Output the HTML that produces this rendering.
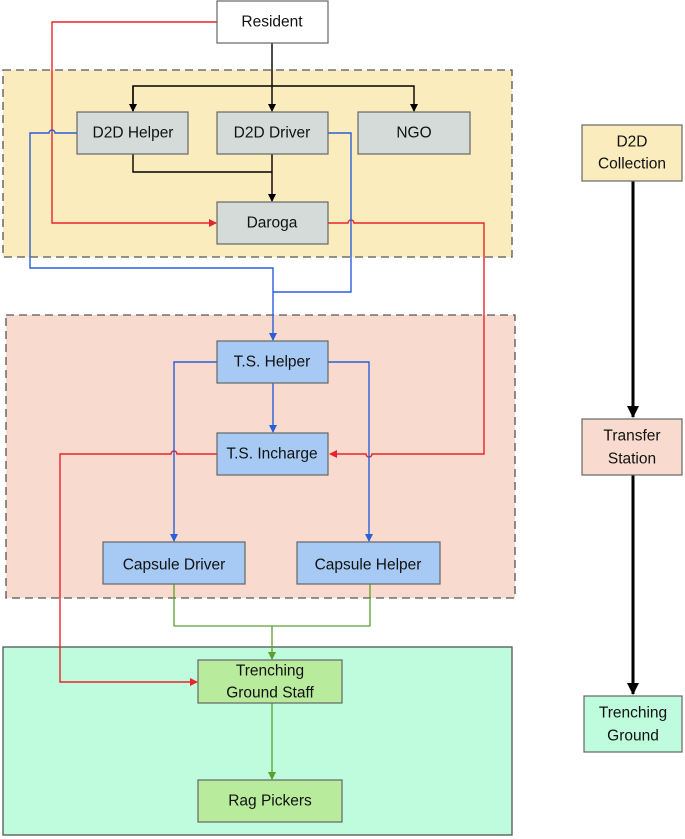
<!DOCTYPE html>
<html><head><meta charset="utf-8"><style>
html,body{margin:0;padding:0;background:#fff}
svg{display:block}
text{font-family:"Liberation Sans",sans-serif;font-size:15.5px;fill:#111;text-anchor:middle;dominant-baseline:central}
</style></head><body>
<svg width="685" height="839" viewBox="0 0 685 839" xmlns="http://www.w3.org/2000/svg">
<defs>
<marker id="ak" markerWidth="8" markerHeight="8" refX="7" refY="4" orient="auto" markerUnits="userSpaceOnUse"><path d="M0,0 L8,4 L0,8z" fill="#000"/></marker>
<marker id="akb" markerWidth="12" markerHeight="12" refX="11" refY="6" orient="auto" markerUnits="userSpaceOnUse"><path d="M0,0 L12,6 L0,12z" fill="#000"/></marker>
<marker id="ar" markerWidth="8" markerHeight="8" refX="7" refY="4" orient="auto" markerUnits="userSpaceOnUse"><path d="M0,0 L8,4 L0,8z" fill="#e8242b"/></marker>
<marker id="ab" markerWidth="8" markerHeight="8" refX="7" refY="4" orient="auto" markerUnits="userSpaceOnUse"><path d="M0,0 L8,4 L0,8z" fill="#2a5fd8"/></marker>
<marker id="ag" markerWidth="8" markerHeight="8" refX="7" refY="4" orient="auto" markerUnits="userSpaceOnUse"><path d="M0,0 L8,4 L0,8z" fill="#5aa02c"/></marker>
</defs>
<rect x="3" y="70" width="509" height="187" fill="#fbecbd" stroke="#555" stroke-dasharray="8,5" stroke-width="1.3"/>
<rect x="6" y="315" width="509" height="283" fill="#f8dbce" stroke="#555" stroke-dasharray="8,5" stroke-width="1.3"/>
<rect x="3" y="647" width="509" height="188" fill="#bffbdd" stroke="#555" stroke-width="1.3"/>

<g fill="none" stroke="#000" stroke-width="1.4">
<path d="M272,43 V111" marker-end="url(#ak)"/>
<path d="M133,111 V86 H414 V111" marker-end="url(#ak)"/>
<path d="M133,86 V111" marker-end="url(#ak)"/>
<path d="M133,154 V172 H272"/>
<path d="M272,154 V201" marker-end="url(#ak)"/>
</g>
<g fill="none" stroke="#e8242b" stroke-width="1.4">
<path d="M217,22 H52 V223 H216" marker-end="url(#ar)"/>
<path d="M328,223 H348 a3,3 0 0 1 6,0 H484 V454 H372 a3,3 0 0 1 -6,0 H330" marker-end="url(#ar)"/>
<path d="M217,454 H177 a3,3 0 0 0 -6,0 H60 V682 H197" marker-end="url(#ar)"/>
</g>
<g fill="none" stroke="#2a5fd8" stroke-width="1.4">
<path d="M77,133 H55 a3,3 0 0 0 -6,0 H30 V268 H273 V340" marker-end="url(#ab)"/>
<path d="M328,133 H351 V292 H273"/>
<path d="M217,362 H174 V541" marker-end="url(#ab)"/>
<path d="M328,362 H369 V541" marker-end="url(#ab)"/>
<path d="M273,383 V432" marker-end="url(#ab)"/>
</g>
<g fill="none" stroke="#5aa02c" stroke-width="1.3">
<path d="M174,584 V626 H370 V584"/>
<path d="M272,626 V659" marker-end="url(#ag)"/>
<path d="M272,703 V779" marker-end="url(#ag)"/>
</g>
<g fill="none" stroke="#000" stroke-width="3">
<path d="M633,181 V417" marker-end="url(#akb)"/>
<path d="M633,475 V694" marker-end="url(#akb)"/>
</g>

<g stroke="#666" stroke-width="1.2">
<rect x="217" y="1" width="111" height="42" fill="#fff"/>
<rect x="77" y="112" width="111" height="42" fill="#d5dbd9"/>
<rect x="217" y="112" width="111" height="42" fill="#d5dbd9"/>
<rect x="358" y="112" width="112" height="42" fill="#d5dbd9"/>
<rect x="217" y="202" width="111" height="42" fill="#d5dbd9"/>
<rect x="217" y="341" width="111" height="42" fill="#a6caf4"/>
<rect x="217" y="433" width="111" height="42" fill="#a6caf4"/>
<rect x="103" y="542" width="142" height="42" fill="#a6caf4"/>
<rect x="297" y="542" width="143" height="42" fill="#a6caf4"/>
<rect x="198" y="660" width="144" height="43" fill="#b8eb9c"/>
<rect x="198" y="780" width="144" height="42" fill="#b8eb9c"/>
<rect x="582" y="125" width="100" height="56" fill="#fbecbd"/>
<rect x="582" y="419" width="100" height="56" fill="#f8dbce"/>
<rect x="584" y="696" width="98" height="56" fill="#bffbdd"/>
</g>
<text x="272" y="22">Resident</text>
<text x="133" y="133">D2D Helper</text>
<text x="272" y="133">D2D Driver</text>
<text x="414" y="133">NGO</text>
<text x="272" y="223">Daroga</text>
<text x="272" y="362">T.S. Helper</text>
<text x="272" y="454">T.S. Incharge</text>
<text x="174" y="565">Capsule Driver</text>
<text x="368" y="565">Capsule Helper</text>
<text x="270" y="671">Trenching</text>
<text x="270" y="693">Ground Staff</text>
<text x="270" y="801">Rag Pickers</text>
<text x="632" y="142">D2D</text>
<text x="632" y="164">Collection</text>
<text x="632" y="436">Transfer</text>
<text x="632" y="459">Station</text>
<text x="633" y="713">Trenching</text>
<text x="633" y="736">Ground</text>
</svg>
</body></html>
